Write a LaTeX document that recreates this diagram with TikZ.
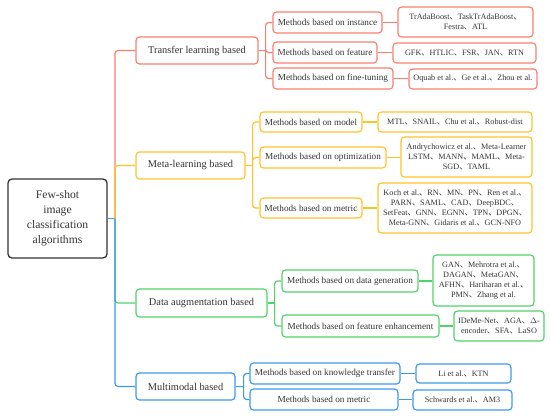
\documentclass[tikz,border=0pt]{standalone}
\usepackage{fontspec}
\setmainfont{Liberation Serif}
\newfontfamily\cjk{Noto Sans CJK SC}
\newcommand\dn{{\cjk 、}}
\definecolor{cred}{HTML}{FA7E6E}
\definecolor{cyel}{HTML}{FFC229}
\definecolor{cgrn}{HTML}{52D26A}
\definecolor{cblu}{HTML}{3A9AEC}
\definecolor{txt}{HTML}{333333}
\definecolor{rootc}{HTML}{333333}
\begin{document}
\begin{tikzpicture}[x=1pt,y=-1pt,
  box/.style={draw, rounded corners=3.5pt, line width=1.2pt, inner sep=1pt, align=center, text=txt},
  rootbox/.style={box, draw=rootc, line width=1.3pt, rounded corners=4pt, font=\fontsize{11.6}{15}\selectfont},
  lone/.style={box, font=\fontsize{10.4}{12}\selectfont},
  ltwo/.style={box, font=\fontsize{9.2}{11}\selectfont},
  lthree/.style={box, font=\fontsize{8.2}{10.2}\selectfont},
  lnk/.style={line width=1.2pt, rounded corners=3pt},
  R/.style={draw=cred}, Y/.style={draw=cyel}, G/.style={draw=cgrn}, B/.style={draw=cblu},
  sz/.style 2 args={minimum width=#1pt, minimum height=#2pt}]
\useasboundingbox (0,0) rectangle (550,418);

% root
\node[rootbox, sz={99}{79}] (root) at (57.5,218.5) {Few-shot\\image\\classification\\algorithms};

% level 1
\node[lone, R, sz={122}{27}] (T) at (197,50.5) {Transfer learning based};
\node[lone, Y, sz={109}{27}] (M) at (190.5,165.5) {Meta-learning based};
\node[lone, G, sz={131}{28}] (D) at (201.5,303) {Data augmentation based};
\node[lone, B, sz={99}{27}] (U) at (185.5,386.5) {Multimodal based};

% level 2 transfer
\node[ltwo, R, sz={109}{21}] (ti) at (327.5,22.5) {Methods based on instance};
\node[ltwo, R, sz={104}{21}] (tf) at (325,52.5) {Methods based on feature};
\node[ltwo, R, sz={120}{21}] (tt) at (333,78.5) {Methods based on fine-tuning};
% level 3 transfer
\node[lthree, R, sz={135}{30}] (tiL) at (465.5,22) {TrAdaBoost\dn TaskTrAdaBoost\dn\\Festra\dn ATL};
\node[lthree, R, sz={143}{20}] (tfL) at (464.5,53) {GFK\dn HTLIC\dn FSR\dn JAN\dn RTN};
\node[lthree, R, sz={128}{20}] (ttL) at (473,79) {Oquab et al.\dn Ge et al.\dn Zhou et al.};

% level 2 meta
\node[ltwo, Y, sz={102}{20}] (mm) at (311,122) {Methods based on model};
\node[ltwo, Y, sz={126}{21}] (mo) at (323,157.5) {Methods based on optimization};
\node[ltwo, Y, sz={102}{20}] (mt) at (311,208) {Methods based on metric};
% level 3 meta
\node[lthree, Y, sz={154}{20}] (mmL) at (455,122) {MTL\dn SNAIL\dn Chu et al.\dn Robust-dist};
\node[lthree, Y, sz={131}{40}] (moL) at (466.5,157) {Andrychowicz et al.\dn Meta-Learner\\LSTM\dn MANN\dn MAML\dn Meta-\\SGD\dn TAML};
\node[lthree, Y, sz={154}{50}] (mtL) at (455,208) {Koch et al.\dn RN\dn MN\dn PN\dn Ren et al.\dn\\PARN\dn SAML\dn CAD\dn DeepBDC\dn\\SetFeat\dn GNN\dn EGNN\dn TPN\dn DPGN\dn\\Meta-GNN\dn Gidaris et al.\dn GCN-NFO};

% level 2 data
\node[ltwo, G, sz={136}{22}] (dg) at (350,281) {Methods based on data generation};
\node[ltwo, G, sz={157}{22}] (de) at (360.5,326) {Methods based on feature enhancement};
% level 3 data
\node[lthree, G, sz={101}{51}] (dgL) at (483.5,280.5) {GAN\dn Mehrotra et al.\dn\\DAGAN\dn MetaGAN\dn\\AFHN\dn Hariharan et al.\dn\\PMN\dn Zhang et al.};
\node[lthree, G, sz={90}{30}] (deL) at (499,326) {IDeMe-Net\dn AGA\dn $\Delta$-\\encoder\dn SFA\dn LaSO};

% level 2 multimodal
\node[ltwo, B, sz={150}{21}] (uk) at (325,373.5) {Methods based on knowledge transfer};
\node[ltwo, B, sz={148}{21}] (um) at (324,399.5) {Methods based on metric};
% level 3 multimodal
\node[lthree, B, sz={95}{19}] (ukL) at (463.5,373.5) {Li et al.\dn KTN};
\node[lthree, B, sz={99}{20}] (umL) at (462.5,400) {Schwards et al.\dn AM3};

% trunk
\draw[lnk, B] (root.east) -- (115,218.5) coordinate (trunk);
\draw[lnk, R] (trunk) |- (T.west);
\draw[lnk, Y] (trunk) |- (M.west);
\draw[lnk, G] (trunk) |- (D.west);
\draw[lnk, B] (trunk) |- (U.west);

% brackets level 1 -> level 2
\draw[lnk, R] (T.east) -- ++(7,0) coordinate (tb);
\foreach \c in {ti,tf,tt} \draw[lnk, R] (tb) |- (\c.west);
\draw[lnk, Y] (M.east) -- ++(7,0) coordinate (mb);
\foreach \c in {mm,mo,mt} \draw[lnk, Y] (mb) |- (\c.west);
\draw[lnk, G] (D.east) -- ++(7,0) coordinate (db);
\foreach \c in {dg,de} \draw[lnk, G] (db) |- (\c.west);
\draw[lnk, B] (U.east) -- ++(8,0) coordinate (ub);
\foreach \c in {uk,um} \draw[lnk, B] (ub) |- (\c.west);

% level 2 -> level 3
\draw[lnk, R] (ti.east) -- (ti.east -| tiL.west);
\draw[lnk, R] (tf.east) -- (tf.east -| tfL.west);
\draw[lnk, R] (tt.east) -- (tt.east -| ttL.west);
\draw[lnk, Y] (mm.east) -- (mm.east -| mmL.west);
\draw[lnk, Y] (mo.east) -- (mo.east -| moL.west);
\draw[lnk, Y] (mt.east) -- (mt.east -| mtL.west);
\draw[lnk, G] (dg.east) -- (dg.east -| dgL.west);
\draw[lnk, G] (de.east) -- (de.east -| deL.west);
\draw[lnk, B] (uk.east) -- (uk.east -| ukL.west);
\draw[lnk, B] (um.east) -- (um.east -| umL.west);
\end{tikzpicture}
\end{document}
